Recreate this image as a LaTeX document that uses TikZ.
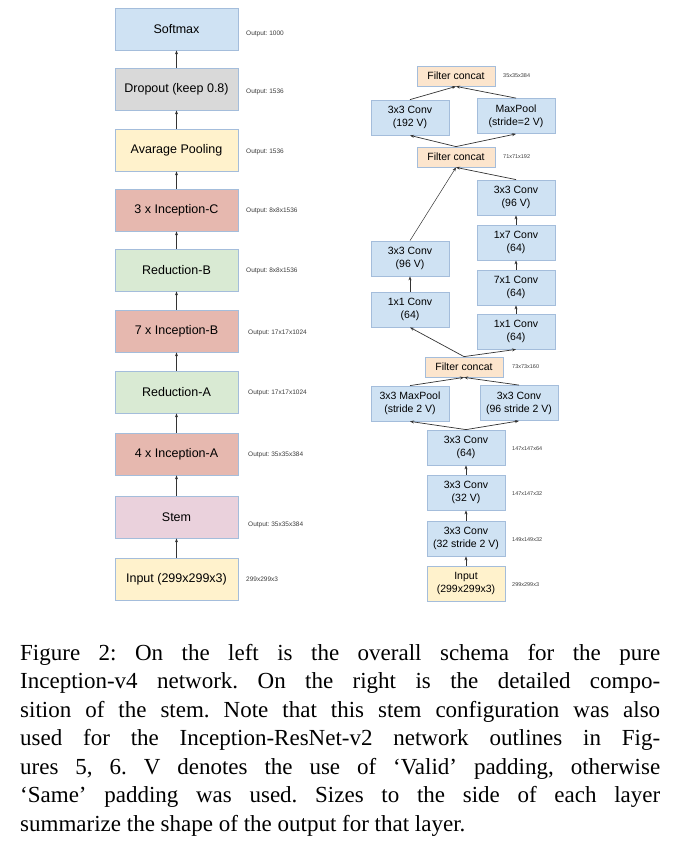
\documentclass[tikz,border=0pt]{standalone}
\usepackage{fontspec}
\setmainfont{Liberation Serif}
\newfontfamily\sansf{Liberation Sans}
\usetikzlibrary{arrows.meta}
\definecolor{cblue}{HTML}{CFE2F3}
\definecolor{cgray}{HTML}{D9D9D9}
\definecolor{cyel}{HTML}{FFF2CC}
\definecolor{cred}{HTML}{E6B8AF}
\definecolor{cgrn}{HTML}{D9EAD3}
\definecolor{cpink}{HTML}{EAD1DC}
\definecolor{corange}{HTML}{FCE5CD}
\definecolor{bord}{HTML}{A4BDDB}
\definecolor{lab}{HTML}{3C3C3C}
\frenchspacing
\begin{document}
\begin{tikzpicture}[x=1pt,y=-1pt,
  L/.style={draw=bord,line width=0.8pt,minimum width=123pt,minimum height=42pt,font=\sansf\fontsize{12.5}{14}\selectfont,inner sep=0pt},
  R/.style={draw=bord,line width=0.8pt,minimum width=78pt,minimum height=35pt,font=\sansf\fontsize{10.5}{13}\selectfont,align=center,inner sep=0pt,fill=cblue},
  FC/.style={R,fill=corange,minimum height=20pt},
  ol/.style={font=\sansf\fontsize{6.5}{7}\selectfont,text=lab,anchor=west,inner sep=0pt},
  a/.style={-{Stealth[length=4pt,width=3pt]},line width=0.7pt,draw=black!80}]
\useasboundingbox (0,0) rectangle (675,852);
% left column
\node[L,fill=cblue] (sm) at (176.5,29) {Softmax};
\node[L,fill=cgray] (dr) at (176.5,89) {Dropout (keep 0.8)};
\node[L,fill=cyel] (ap) at (176.5,150) {Avarage Pooling};
\node[L,fill=cred] (ic) at (176.5,210) {3 x Inception-C};
\node[L,fill=cgrn] (rb) at (176.5,270) {Reduction-B};
\node[L,fill=cred] (ib) at (176.5,331) {7 x Inception-B};
\node[L,fill=cgrn] (ra) at (176.5,392) {Reduction-A};
\node[L,fill=cred] (ia) at (176.5,454) {4 x Inception-A};
\node[L,fill=cpink] (st) at (176.5,517) {Stem};
\node[L,fill=cyel] (in) at (176.5,579) {Input (299x299x3)};
\node[ol] (o1) at (246,34) {Output: 1000};
\node[ol] (o2) at (246,92) {Output: 1536};
\node[ol] (o3) at (246,152) {Output: 1536};
\node[ol] (o4) at (246,211) {Output: 8x8x1536};
\node[ol] (o5) at (246,271) {Output: 8x8x1536};
\node[ol] (o6) at (248,333) {Output: 17x17x1024};
\node[ol] (o7) at (248,393) {Output: 17x17x1024};
\node[ol] (o8) at (248,455) {Output: 35x35x384};
\node[ol] (o9) at (248,525) {Output: 35x35x384};
\node[ol] (o10) at (246,579) {299x299x3};
\foreach \u/\v in {in/st,st/ia,ia/ra,ra/ib,ib/rb,rb/ic,ic/ap,ap/dr,dr/sm} \draw[a] (\u) -- (\v);
% right column
\node[FC] (f1) at (456,76) {Filter concat};
\node[R] (c192) at (410,117.5) {3x3 Conv\\(192 V)};
\node[R] (mp1) at (516,116) {MaxPool\\(stride=2 V)};
\node[FC] (f2) at (456,157) {Filter concat};
\node[R] (r4) at (516,197.5) {3x3 Conv\\(96 V)};
\node[R] (r3) at (516,242.5) {1x7 Conv\\(64)};
\node[R] (r2) at (516,287.5) {7x1 Conv\\(64)};
\node[R] (r1) at (516,331.5) {1x1 Conv\\(64)};
\node[R] (l2) at (410,258.5) {3x3 Conv\\(96 V)};
\node[R] (l1) at (410,309.5) {1x1 Conv\\(64)};
\node[FC] (f3) at (464,367) {Filter concat};
\node[R] (mp2) at (410,403.5) {3x3 MaxPool\\(stride 2 V)};
\node[R] (c96) at (519,403) {3x3 Conv\\(96 stride 2 V)};
\node[R] (c64) at (466,447.5) {3x3 Conv\\(64)};
\node[R] (c32) at (466,492.5) {3x3 Conv\\(32 V)};
\node[R] (c32s) at (466,538.5) {3x3 Conv\\(32 stride 2 V)};
\node[R,fill=cyel] (rin) at (466,583.5) {Input\\(299x299x3)};
\node[ol,font=\sansf\fontsize{5.5}{6}\selectfont] (s1) at (503,76) {35x35x384};
\node[ol,font=\sansf\fontsize{5.5}{6}\selectfont] (s2) at (503,157) {71x71x192};
\node[ol,font=\sansf\fontsize{5.5}{6}\selectfont] (s3) at (512,367) {73x73x160};
\node[ol,font=\sansf\fontsize{5.5}{6}\selectfont] (s4) at (512,449) {147x147x64};
\node[ol,font=\sansf\fontsize{5.5}{6}\selectfont] (s5) at (512,494) {147x147x32};
\node[ol,font=\sansf\fontsize{5.5}{6}\selectfont] (s6) at (512,540) {149x149x32};
\node[ol,font=\sansf\fontsize{5.5}{6}\selectfont] (s7) at (512,585) {299x299x3};
\draw[a] (rin) -- (c32s);
\draw[a] (c32s) -- (c32);
\draw[a] (c32) -- (c64);
\draw[a] (c64.north) -- (mp2.south);
\draw[a] (c64.north) -- (c96.south);
\draw[a] (mp2.north) -- (f3.south);
\draw[a] (c96.north) -- (f3.south);
\draw[a] (f3.north) -- (l1.south);
\draw[a] (f3.north) -- (r1.south);
\draw[a] (l1) -- (l2);
\draw[a] (r1) -- (r2);
\draw[a] (r2) -- (r3);
\draw[a] (r3) -- (r4);
\draw[a,line width=0.5pt] (l2.north) -- (f2.south);
\draw[a] (r4.north) -- (f2.south);
\draw[a] (f2.north) -- (c192.south);
\draw[a] (f2.north) -- (mp1.south);
\draw[a] (c192.north) -- (f1.south);
\draw[a] (mp1.north) -- (f1.south);
% caption
\node[anchor=north west,inner sep=0pt,text width=640pt,align=justify,font=\fontsize{23}{28.5}\selectfont] (cap) at (20,644) {Figure 2: On the left is the overall schema for the pure\linebreak
Inception-v4 network. On the right is the detailed compo-\linebreak
sition of the stem. Note that this stem configuration was also\linebreak
used for the Inception-ResNet-v2 network outlines in Fig-\linebreak
ures 5, 6. V denotes the use of ‘Valid’ padding, otherwise\linebreak
‘Same’ padding was used. Sizes to the side of each layer\linebreak
summarize the shape of the output for that layer.};
\end{tikzpicture}
\end{document}
